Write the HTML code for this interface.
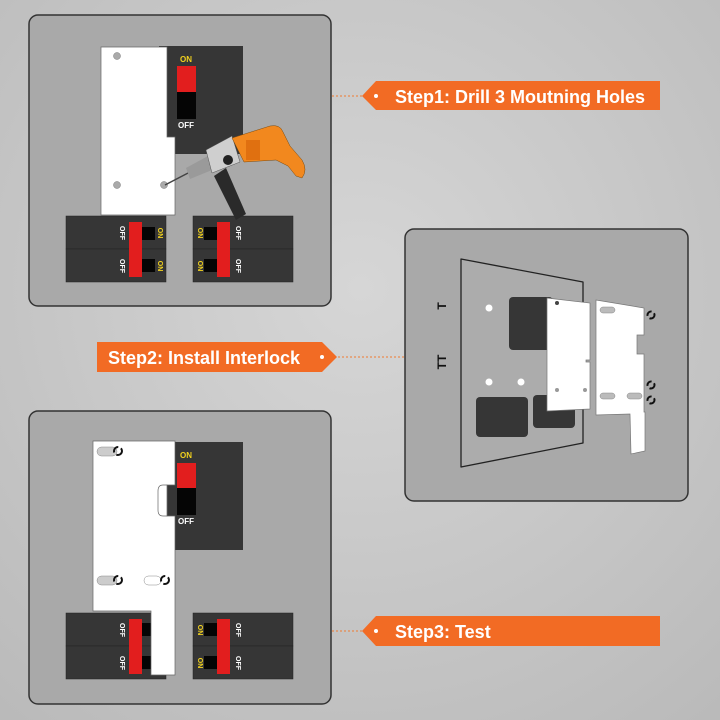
<!DOCTYPE html>
<html><head><style>
body{margin:0;width:720px;height:720px;overflow:hidden;background:#c9c9c9}
svg{display:block}
text{font-family:"Liberation Sans",sans-serif;font-weight:bold}
</style></head><body>
<svg width="720" height="720" viewBox="0 0 720 720">
<defs>
<radialGradient id="bg" cx="0.5" cy="0.4" r="0.8"><stop offset="0" stop-color="#d6d6d6"/><stop offset="1" stop-color="#b9b9b9"/></radialGradient>
</defs>
<rect width="720" height="720" fill="url(#bg)"/>

<line x1="332" y1="96" x2="365" y2="96" stroke="#f07a30" stroke-width="1" stroke-dasharray="2,2"/>
<line x1="334" y1="357" x2="404" y2="357" stroke="#f07a30" stroke-width="1" stroke-dasharray="2,2"/>
<line x1="332" y1="631" x2="365" y2="631" stroke="#f07a30" stroke-width="1" stroke-dasharray="2,2"/>

<polygon points="362,96 376,81 660,81 660,110 376,110" fill="#f26b24"/>
<circle cx="376" cy="96" r="2" fill="#fff"/>
<text x="395" y="103" font-size="18" fill="#fff">Step1: Drill 3 Moutning Holes</text>
<polygon points="97,342 322,342 337,357 322,372 97,372" fill="#f26b24"/>
<circle cx="322" cy="357" r="2" fill="#fff"/>
<text x="108" y="364" font-size="18" fill="#fff">Step2: Install Interlock</text>
<polygon points="362,631 376,616 660,616 660,646 376,646" fill="#f26b24"/>
<circle cx="376" cy="631" r="2" fill="#fff"/>
<text x="395" y="638" font-size="18" fill="#fff">Step3: Test</text>

<!-- Panel 1 -->
<rect x="29" y="15" width="302" height="291" rx="9" fill="#a9a9a9" stroke="#333" stroke-width="1.5"/>
<rect x="159" y="46" width="84" height="108" fill="#363636"/>
<rect x="177" y="66" width="19" height="26" fill="#e21e1e"/>
<rect x="177" y="92" width="19" height="27" fill="#050505"/>
<text x="186" y="62" font-size="8" fill="#f2d21e" text-anchor="middle">ON</text>
<text x="186" y="128" font-size="8" fill="#fff" text-anchor="middle">OFF</text>
<polygon points="101,47 167,47 167,137 175,137 175,215 101,215" fill="#fff" stroke="#666" stroke-width="0.7"/>
<circle cx="117" cy="56" r="3.5" fill="#aaa" stroke="#777" stroke-width="0.5"/>
<circle cx="117" cy="185" r="3.5" fill="#aaa" stroke="#777" stroke-width="0.5"/>
<circle cx="164" cy="185" r="3.5" fill="#aaa" stroke="#777" stroke-width="0.5"/>
<rect x="66" y="216" width="100" height="33" fill="#363636" stroke="#222" stroke-width="0.5"/>
<rect x="66" y="249" width="100" height="33" fill="#363636" stroke="#222" stroke-width="0.5"/>
<rect x="142" y="227" width="13" height="13" fill="#050505"/>
<rect x="142" y="259" width="13" height="13" fill="#050505"/>
<rect x="129" y="222" width="13" height="55" fill="#e21e1e"/>
<text transform="translate(120,233) rotate(90)" font-size="7" fill="#fff" text-anchor="middle">OFF</text>
<text transform="translate(120,266) rotate(90)" font-size="7" fill="#fff" text-anchor="middle">OFF</text>
<text transform="translate(158,233) rotate(90)" font-size="7" fill="#f2d21e" text-anchor="middle">ON</text>
<text transform="translate(158,266) rotate(90)" font-size="7" fill="#f2d21e" text-anchor="middle">ON</text>
<rect x="193" y="216" width="100" height="33" fill="#363636" stroke="#222" stroke-width="0.5"/>
<rect x="193" y="249" width="100" height="33" fill="#363636" stroke="#222" stroke-width="0.5"/>
<rect x="204" y="227" width="13" height="13" fill="#050505"/>
<rect x="204" y="259" width="13" height="13" fill="#050505"/>
<rect x="217" y="222" width="13" height="55" fill="#e21e1e"/>
<text transform="translate(198,233) rotate(90)" font-size="7" fill="#f2d21e" text-anchor="middle">ON</text>
<text transform="translate(198,266) rotate(90)" font-size="7" fill="#f2d21e" text-anchor="middle">ON</text>
<text transform="translate(236,233) rotate(90)" font-size="7" fill="#fff" text-anchor="middle">OFF</text>
<text transform="translate(236,266) rotate(90)" font-size="7" fill="#fff" text-anchor="middle">OFF</text>
<!-- drill -->
<line x1="165" y1="185" x2="190" y2="172" stroke="#444" stroke-width="1.5"/>
<polygon points="186,168 208,156 212,170 190,179" fill="#9a9a9a"/>
<polygon points="206,150 232,136 240,162 212,173" fill="#cfcfcf" stroke="#555" stroke-width="0.5"/>
<circle cx="228" cy="160" r="5" fill="#222"/>
<polygon points="214,176 226,168 246,214 236,220" fill="#2a2a2a"/>
<path d="M232,138 L270,126 Q280,124 283,132 L290,146 L302,160 Q308,170 302,178 L296,176 L288,166 L276,160 L244,162 Z" fill="#f2881e" stroke="#7a4a10" stroke-width="0.5"/>
<rect x="246" y="140" width="14" height="20" fill="#e07010"/>

<!-- Panel 2 -->
<rect x="405" y="229" width="283" height="272" rx="9" fill="#a9a9a9" stroke="#333" stroke-width="1.5"/>
<polygon points="461,259 583,282 583,443 461,467" fill="#acacac" stroke="#222" stroke-width="1.3" stroke-linejoin="round"/>
<rect x="509" y="297" width="44" height="53" rx="4" fill="#363636"/>
<rect x="476" y="397" width="52" height="40" rx="4" fill="#363636"/>
<rect x="533" y="395" width="42" height="33" rx="4" fill="#363636"/>
<circle cx="489" cy="308" r="3.5" fill="#fff"/>
<circle cx="489" cy="382" r="3.5" fill="#fff"/>
<circle cx="521" cy="382" r="3.5" fill="#fff"/>
<text transform="translate(446,306) rotate(-90)" font-size="12" fill="#111" text-anchor="middle">T</text>
<text transform="translate(446,362) rotate(-90)" font-size="12" fill="#111" text-anchor="middle">TT</text>
<polygon points="547,298 590,303 590,360 586,360 586,362 590,362 590,409 547,411" fill="#fff" stroke="#777" stroke-width="0.7"/>
<circle cx="557" cy="303" r="2" fill="#444"/>
<circle cx="557" cy="390" r="2" fill="#999"/>
<circle cx="585" cy="390" r="2" fill="#999"/>
<polygon points="596,300 644,308 644,335 637,335 637,354 644,354 644,412 645,412 645,451 631,454 630,414 596,415" fill="#fff" stroke="#777" stroke-width="0.7"/>
<rect x="600" y="307" width="15" height="6" rx="3" fill="#bbb" stroke="#888" stroke-width="0.5"/>
<rect x="600" y="393" width="15" height="6" rx="3" fill="#bbb" stroke="#888" stroke-width="0.5"/>
<rect x="627" y="393" width="15" height="6" rx="3" fill="#bbb" stroke="#888" stroke-width="0.5"/>
<circle cx="651" cy="315" r="3.5" fill="none" stroke="#111" stroke-width="2" stroke-dasharray="7,3"/>
<circle cx="651" cy="385" r="3.5" fill="none" stroke="#111" stroke-width="2" stroke-dasharray="7,3"/>
<circle cx="651" cy="400" r="3.5" fill="none" stroke="#111" stroke-width="2" stroke-dasharray="7,3"/>

<!-- Panel 3 -->
<rect x="29" y="411" width="302" height="293" rx="9" fill="#a9a9a9" stroke="#333" stroke-width="1.5"/>
<rect x="165" y="442" width="78" height="108" fill="#363636"/>
<rect x="177" y="463" width="19" height="25" fill="#e21e1e"/>
<rect x="177" y="488" width="19" height="27" fill="#050505"/>
<text x="186" y="458" font-size="8" fill="#f2d21e" text-anchor="middle">ON</text>
<text x="186" y="524" font-size="8" fill="#fff" text-anchor="middle">OFF</text>
<rect x="66" y="613" width="100" height="33" fill="#363636" stroke="#222" stroke-width="0.5"/>
<rect x="66" y="646" width="100" height="33" fill="#363636" stroke="#222" stroke-width="0.5"/>
<rect x="142" y="623" width="13" height="13" fill="#050505"/>
<rect x="142" y="656" width="13" height="13" fill="#050505"/>
<rect x="129" y="619" width="13" height="55" fill="#e21e1e"/>
<text transform="translate(120,630) rotate(90)" font-size="7" fill="#fff" text-anchor="middle">OFF</text>
<text transform="translate(120,663) rotate(90)" font-size="7" fill="#fff" text-anchor="middle">OFF</text>
<rect x="193" y="613" width="100" height="33" fill="#363636" stroke="#222" stroke-width="0.5"/>
<rect x="193" y="646" width="100" height="33" fill="#363636" stroke="#222" stroke-width="0.5"/>
<rect x="204" y="623" width="13" height="13" fill="#050505"/>
<rect x="204" y="656" width="13" height="13" fill="#050505"/>
<rect x="217" y="619" width="13" height="55" fill="#e21e1e"/>
<text transform="translate(198,630) rotate(90)" font-size="7" fill="#f2d21e" text-anchor="middle">ON</text>
<text transform="translate(198,663) rotate(90)" font-size="7" fill="#f2d21e" text-anchor="middle">ON</text>
<text transform="translate(236,630) rotate(90)" font-size="7" fill="#fff" text-anchor="middle">OFF</text>
<text transform="translate(236,663) rotate(90)" font-size="7" fill="#fff" text-anchor="middle">OFF</text>
<path d="M93,441 L175,441 L175,485 L167,485 L167,516 L175,516 L175,675 L151,675 L151,611 L93,611 Z" fill="#fff" stroke="#666" stroke-width="0.7"/>
<path d="M167,485 L163,485 Q158,485 158,491 L158,510 Q158,516 163,516 L167,516 Z" fill="#fff" stroke="#666" stroke-width="0.7"/>
<rect x="97" y="447" width="20" height="9" rx="4.5" fill="#ccc" stroke="#888" stroke-width="0.5"/>
<rect x="97" y="576" width="20" height="9" rx="4.5" fill="#ccc" stroke="#888" stroke-width="0.5"/>
<rect x="144" y="576" width="17" height="9" rx="4.5" fill="#fff" stroke="#888" stroke-width="0.5"/>
<circle cx="118" cy="451" r="4" fill="none" stroke="#111" stroke-width="2" stroke-dasharray="8,3"/>
<circle cx="118" cy="580" r="4" fill="none" stroke="#111" stroke-width="2" stroke-dasharray="8,3"/>
<circle cx="165" cy="580" r="4" fill="none" stroke="#111" stroke-width="2" stroke-dasharray="8,3"/>
</svg>
</body></html>
